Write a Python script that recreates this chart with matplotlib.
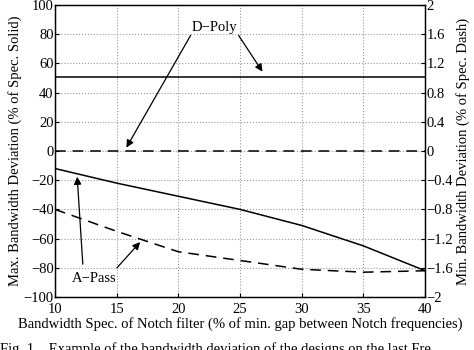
import matplotlib
matplotlib.use("Agg")
import matplotlib.pyplot as plt
import numpy as np

plt.rcParams['font.family'] = ['Liberation Serif', 'DejaVu Serif']
plt.rcParams['axes.unicode_minus'] = True

x_vals = [10, 15, 20, 25, 30, 35, 40]
apass_max = [-12, -22, -31, -40, -51, -65, -82]          # left axis (solid)
apass_min = [-0.80, -1.10, -1.38, -1.50, -1.62, -1.66, -1.64]  # right axis (dash)
dpoly_max = [51, 51, 51, 51, 51, 51, 51]
dpoly_min = [0, 0, 0, 0, 0, 0, 0]

left_ticks = [-100, -80, -60, -40, -20, 0, 20, 40, 60, 80, 100]
right_ticks = [-2, -1.6, -1.2, -0.8, -0.4, 0, 0.4, 0.8, 1.2, 1.6, 2]
right_labels = ['\u22122', '\u22121.6', '\u22121.2', '\u22120.8', '\u22120.4', '0', '0.4', '0.8', '1.2', '1.6', '2']
x_ticks = [10, 15, 20, 25, 30, 35, 40]

fig = plt.figure(figsize=(4.74, 3.5), dpi=100)
ax = fig.add_axes([0.116, 0.1514, 0.781, 0.8343])
ax2 = ax.twinx()

ax.plot(x_vals, dpoly_max, color='black', lw=1.1)
ax.plot(x_vals, apass_max, color='black', lw=1.1)
ax2.plot(x_vals, dpoly_min, color='black', lw=1.1, dashes=(7, 4.5))
ax2.plot(x_vals, apass_min, color='black', lw=1.1, dashes=(7, 4.5))

ax.set_xlim(10, 40)
ax.set_ylim(-100, 100)
ax2.set_ylim(-2, 2)
ax.set_xticks(x_ticks)
ax.set_yticks(left_ticks)
ax.set_yticklabels([str(t).replace('-', '\u2212') for t in left_ticks])
ax2.set_yticks(right_ticks)
ax2.set_yticklabels(right_labels)

ax.grid(True, linestyle=':', color='#999999', lw=0.8)
for a in (ax, ax2):
    a.tick_params(direction='in', length=3, labelsize=10.5, pad=1)
    for s in a.spines.values():
        s.set_linewidth(0.9)
ax.tick_params(axis='x', pad=4)

ax.set_ylabel('Max. Bandwidth Deviation (% of Spec. Solid)', fontsize=10.5, labelpad=1)
ax2.set_ylabel('Min. Bandwidth Deviation (% of Spec. Dash)', fontsize=10.5, labelpad=2)
ax.set_xlabel('Bandwidth Spec. of Notch filter (% of min. gap between Notch frequencies)', fontsize=10.5, labelpad=1)

def pix(px, py):
    return (px / 474, 1 - py / 350)

arrow = dict(arrowstyle='-|>', color='black', lw=0.9, mutation_scale=11)
fig.text(*pix(214, 27), 'D\u2212Poly', ha='center', va='center', fontsize=10.5)
ax.annotate('', xy=pix(125, 150), xycoords='figure fraction', xytext=pix(192, 33), textcoords='figure fraction', arrowprops=arrow)
ax.annotate('', xy=pix(264, 74), xycoords='figure fraction', xytext=pix(237, 33), textcoords='figure fraction', arrowprops=arrow)
fig.text(*pix(94, 278), 'A\u2212Pass', ha='center', va='center', fontsize=10.5)
ax.annotate('', xy=pix(77, 174), xycoords='figure fraction', xytext=pix(83, 267), textcoords='figure fraction', arrowprops=arrow)
ax.annotate('', xy=pix(142, 240), xycoords='figure fraction', xytext=pix(115, 270), textcoords='figure fraction', arrowprops=arrow)

fig.text(*pix(0, 342), 'Fig. 1.   Example of the bandwidth deviation of the designs on the last Fre',
         ha='left', va='top', fontsize=10.5)

fig.savefig('out.png', dpi=100)
